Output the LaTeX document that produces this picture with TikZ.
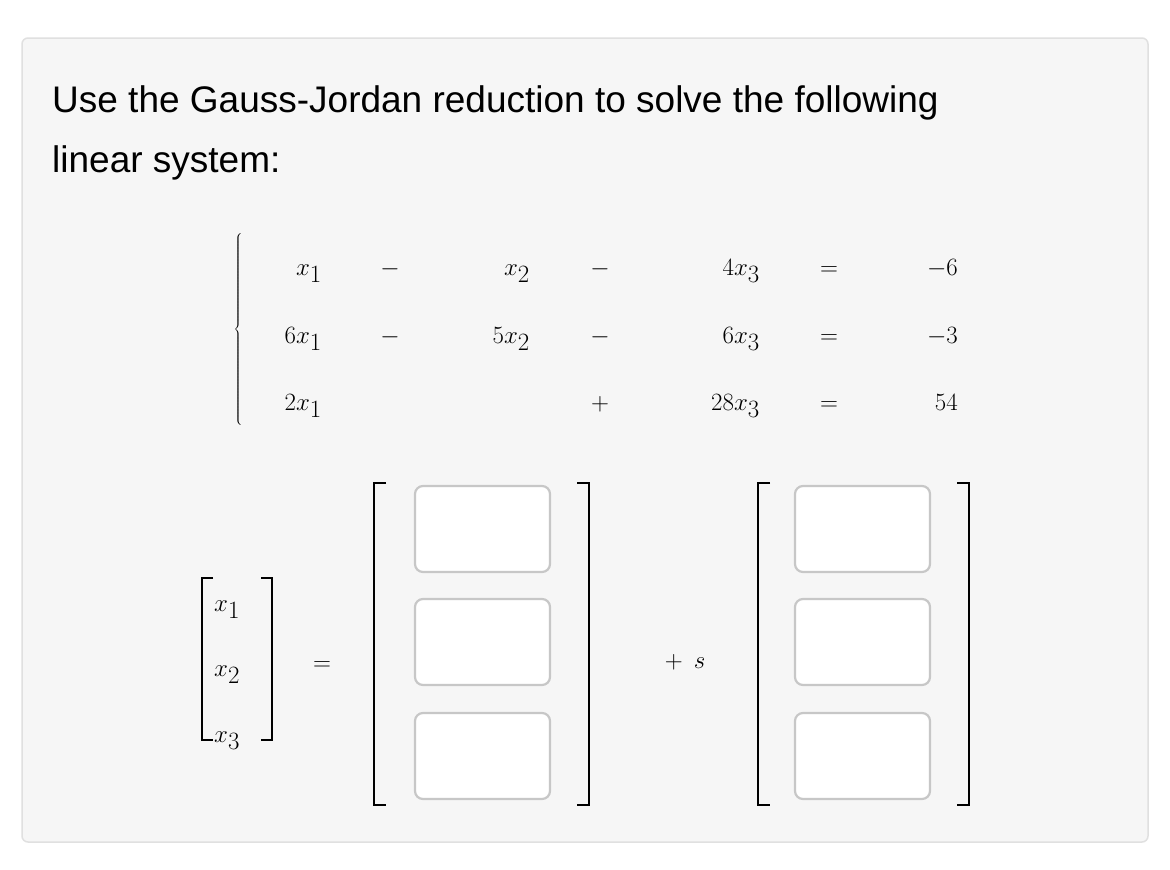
\documentclass[tikz,border=0pt]{standalone}
\usepackage{fontspec}
\setsansfont{Liberation Sans}
\begin{document}
\begin{tikzpicture}[x=1pt,y=-1pt,
  txt/.style={inner sep=0pt,font=\sffamily\fontsize{37}{44}\selectfont},
  eq/.style={inner sep=0pt,font=\fontsize{40}{48}\selectfont},
  sm/.style={inner sep=0pt,font=\fontsize{36}{44}\selectfont},
  ansbox/.style={draw=black!22,line width=2.2pt,fill=white,rounded corners=8pt},
  brk/.style={line width=2.2pt}]
\useasboundingbox (0,0) rectangle (1170,870);
\fill[white] (0,0) rectangle (1170,870);
\draw[draw=black!12,fill=black!3.5,line width=1.5pt,rounded corners=6pt] (22,38) rectangle (1148,842);
\node[txt,anchor=base west] (l1) at (52,112) {Use the Gauss-Jordan reduction to solve the following};
\node[txt,anchor=base west] (l2) at (52,172) {linear system:};
% brace
\node[inner sep=0pt,anchor=east] (br) at (244,330) {$\left\{\vrule height 95pt depth 95pt width 0pt\right.$};
% rows
\foreach \y/\a/\b/\c/\d/\e/\f in {275/x_1/-/x_2/-/4x_3/-6, 343/6x_1/-/5x_2/-/6x_3/-3, 410/2x_1//{}/+/28x_3/54}{
  \node[eq,anchor=base east] at (322,\y) {$\a$};
  \node[eq,anchor=base] at (390,\y) {$\b$};
  \node[eq,anchor=base east] at (530,\y) {$\c$};
  \node[eq,anchor=base] at (600,\y) {$\d$};
  \node[eq,anchor=base east] at (760,\y) {$\e$};
  \node[eq,anchor=base] at (829,\y) {$=$};
  \node[eq,anchor=base east] at (958,\y) {$\f$};
}
% small vector
\draw[brk] (213,578) -- (202,578) -- (202,740) -- (213,740);
\draw[brk] (261,578) -- (272,578) -- (272,740) -- (261,740);
\node[sm,anchor=base west] (v1) at (214,611) {$x_1$};
\node[sm,anchor=base west] (v2) at (214,676) {$x_2$};
\node[sm,anchor=base west] (v3) at (214,742) {$x_3$};
\node[eq,anchor=base] (eqs) at (322,670) {$=$};
% big brackets
\draw[brk] (386,483) -- (374,483) -- (374,805) -- (386,805);
\draw[brk] (577,483) -- (589,483) -- (589,805) -- (577,805);
\draw[brk] (770,483) -- (758,483) -- (758,805) -- (770,805);
\draw[brk] (957,483) -- (969,483) -- (969,805) -- (957,805);
\foreach \x in {415,795}{
  \draw[ansbox] (\x,486) rectangle ++(135,86);
  \draw[ansbox] (\x,599) rectangle ++(135,86);
  \draw[ansbox] (\x,713) rectangle ++(135,86);
}
\node[eq,anchor=base] (ps) at (685,668) {$+\;\,s$};
\end{tikzpicture}
\end{document}
